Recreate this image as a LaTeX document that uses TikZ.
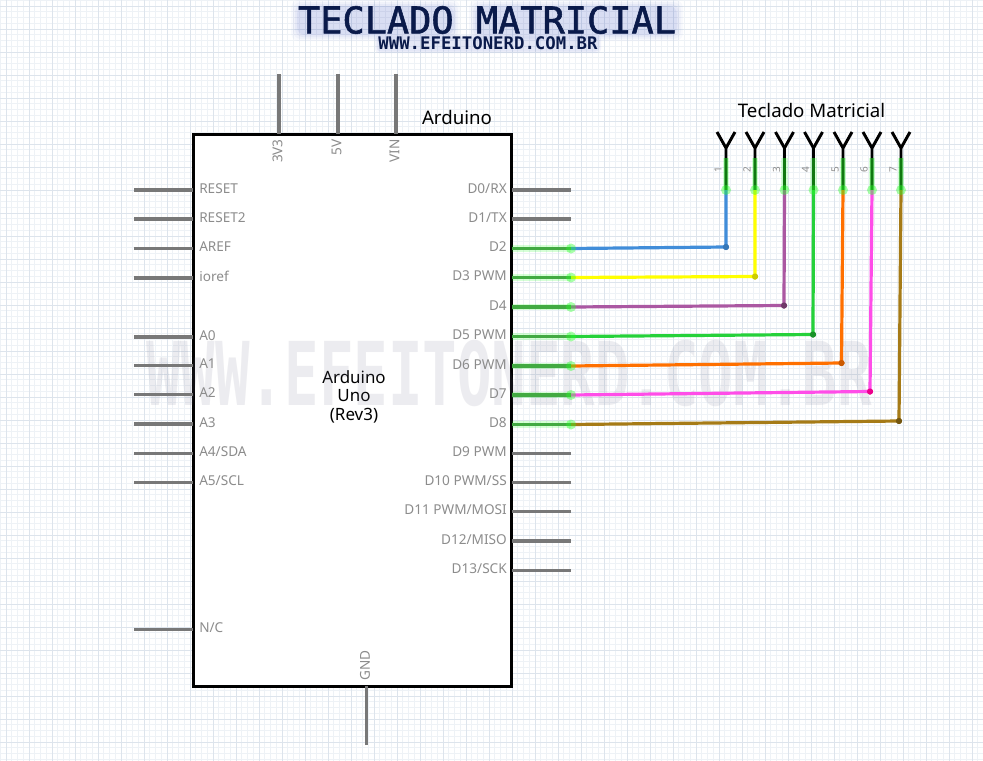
\documentclass[tikz,border=0pt]{standalone}
\usepackage{fontspec}
\setmainfont{Noto Sans}
\newfontfamily\titlefnt{DejaVu Sans Mono}[FakeBold=1.5]
\newfontfamily\markfnt{DejaVu Sans Mono Bold}

\definecolor{gridminor}{HTML}{EEF2F6}
\definecolor{gridmajor}{HTML}{DDE4EC}
\definecolor{pingray}{HTML}{787878}
\definecolor{labelgray}{HTML}{8C8C8C}
\definecolor{navytext}{HTML}{0A1A4A}
\definecolor{glowblue}{HTML}{3A4FC0}
\definecolor{wireblue}{HTML}{418DD9}
\definecolor{wireyellow}{HTML}{FFFF00}
\definecolor{wirepurple}{HTML}{AB58A2}
\definecolor{wiregreen}{HTML}{25D13A}
\definecolor{wireorange}{HTML}{FF7000}
\definecolor{wirepink}{HTML}{FF4DE8}
\definecolor{wirebrown}{HTML}{A67B17}
\definecolor{hitgreen}{HTML}{22C822}

\tikzset{
  pinline/.style={draw=pingray, line width=2.4pt},
  pinlabel/.style={font=\fontsize{10.2}{12}\selectfont, text=labelgray, inner sep=0pt},
  bigname/.style={font=\fontsize{14}{16}\selectfont, anchor=base},
  wire/.style={line width=2.4pt, line join=round},
  turndot/.style={circle, inner sep=0pt, minimum size=4.6pt, fill=#1},
  hit/.style={draw=hitgreen, opacity=0.5, line width=2.6pt},
  halo/.style={draw=green, opacity=0.16, line width=4.8pt},
  glowdot/.style={circle, inner sep=0pt, minimum size=7.5pt, fill=green!85!white, opacity=0.4},
}

\begin{document}
\begin{tikzpicture}[x=0.75pt, y=-0.75pt]
  \useasboundingbox (0,0) rectangle (983,761);
  \fill[white] (0,0) rectangle (983,761);

  % graph paper
  \foreach \i in {0,...,170} \draw[gridminor, line width=0.5pt] ({0.25+5.75*\i},0) -- ++(0,761);
  \foreach \i in {0,...,132} \draw[gridminor, line width=0.5pt] (0,{0.25+5.75*\i}) -- ++(983,0);
  \foreach \i in {0,...,42} \draw[gridmajor, line width=0.55pt] ({6+23*\i},0) -- ++(0,761);
  \foreach \i in {0,...,33} \draw[gridmajor, line width=0.55pt] (0,{6+23*\i}) -- ++(983,0);

  % board
  \node[draw=black, fill=white, line width=2.5pt, minimum width=238.5pt, minimum height=414pt, inner sep=0pt, anchor=north west] (board) at (191.5,132.5) {};
  \node[bigname] (boardname) at (457,124.5) {Arduino};
  \node[align=center, font=\fontsize{12.7}{13.9}\selectfont, inner sep=0pt] (boardtype) at (354,396.5) {Arduino\\Uno\\(Rev3)};

  % watermark
  \node[text=gray!90!blue, opacity=0.13, inner sep=0pt, xscale=0.652] (mark) at (509,373)
    {\markfnt\fontsize{66}{66}\selectfont WWW.EFEITONERD.COM.BR};

  % title haze
  \foreach \r/\o in {7/0.03, 5/0.04, 3/0.05, 1/0.07} {
    \fill[glowblue, opacity=\o, rounded corners=6pt] (298-\r,7-\r) rectangle (453+\r,34+\r);
    \fill[glowblue, opacity=\o, rounded corners=6pt] (476-\r,7-\r) rectangle (676+\r,34+\r);
  }
  \foreach \r/\o in {3/0.06, 1.5/0.08}
    \fill[glowblue, opacity=\o, rounded corners=3pt] (378-\r,38-\r) rectangle (598+\r,50+\r);
  \node[text=navytext, inner sep=0pt] (title) at (487,20)
    {\titlefnt\fontsize{27.7}{28}\selectfont TECLADO MATRICIAL};
  \node[text=navytext, inner sep=0pt] (site) at (488,43.5)
    {\markfnt\fontsize{13}{14}\selectfont WWW.EFEITONERD.COM.BR};

  % left pins
  \foreach \name/\ypos/\txt in {reset/190/RESET, resetb/219/RESET2, aref/248.5/AREF, ioref/278/ioref,
      a0/337/A0, a1/365.5/A1, a2/394.5/A2, a3/424/A3, a4/453.5/{A4/SDA}, a5/482.5/{A5/SCL}, nc/629.5/{N/C}} {
    \coordinate (\name out) at (134,\ypos);
    \node[pinlabel, anchor=west] (\name) at (199,\ypos-1.5) {\txt};
    \draw[pinline] (\name out) -- (193,\ypos);
  }

  % right pins
  \foreach \name/\ypos/\txt in {d0/190/{D0/RX}, d1/219/{D1/TX}, d2/248.5/D2, d3/277.5/D3 PWM, d4/307/D4,
      d5/336.5/D5 PWM, d6/366/D6 PWM, d7/395/D7, d8/424.5/D8, d9/453.5/D9 PWM, d10/482.5/{D10 PWM/SS},
      d11/511.5/{D11 PWM/MOSI}, d12/541/{D12/MISO}, d13/570.5/{D13/SCK}} {
    \coordinate (\name out) at (571,\ypos);
    \coordinate (\name in) at (512,\ypos);
    \node[pinlabel, anchor=east] (\name) at (507,\ypos-1.5) {\txt};
    \draw[pinline] (\name in) -- (\name out);
  }

  % top and bottom pins
  \foreach \name/\xpos/\txt in {vthree/279/3V3, vfive/338/5V, vin/396/VIN} {
    \coordinate (\name out) at (\xpos,74);
    \node[pinlabel, rotate=90, anchor=east] (\name) at (\xpos-1.5,139) {\txt};
    \draw[pinline] (\name out) -- (\xpos,134);
  }
  \coordinate (gndout) at (366.5,745);
  \node[pinlabel, rotate=90, anchor=west] (gnd) at (365,681) {GND};
  \draw[pinline] (gndout) -- (366.5,686);

  % keypad
  \node[bigname] (keypad) at (811.5,117) {Teclado Matricial};
  \foreach \n/\xpos in {1/726, 2/755, 3/784.5, 4/813.5, 5/843, 6/872, 7/901} {
    \coordinate (k\n) at (\xpos,190);
    \coordinate (fork\n) at (\xpos,148);
    \draw[black, line width=2.2pt] (k\n) -- (fork\n) -- ++(-9,-16);
    \draw[black, line width=2.2pt] (fork\n) -- ++(9,-16);
    \node[font=\fontsize{7.5}{8}\selectfont, text=labelgray, rotate=90, inner sep=0pt] (num\n) at (\xpos-8,170) {\n};
  }

  % wires
  \foreach \pinname/\n/\xbend/\ybend/\col/\dotcol in {
      d2/1/726/247/wireblue/wireblue!85!black,
      d3/2/755/276.5/wireyellow/wireyellow!80!black,
      d4/3/784/305.5/wirepurple/wirepurple!65!black,
      d5/4/813/334.5/wiregreen/wiregreen!70!black,
      d6/5/841.5/363/wireorange/wireorange!80!black,
      d7/6/870/391.5/wirepink/magenta,
      d8/7/899/421/wirebrown/wirebrown!70!black} {
    \node[turndot=\dotcol] (turn\n) at (\xbend,\ybend) {};
    \draw[wire, draw=\col] (\pinname out) -- (turn\n.center) -- (k\n);
    \node[turndot=\dotcol] at (turn\n) {};
    % lit connection at the board
    \draw[halo] (\pinname in) -- (\pinname out);
    \draw[hit] (\pinname in) -- (\pinname out);
    \node[glowdot] at (\pinname out) {};
  }
  \foreach \n in {1,...,7} {
    \draw[halo] (k\n) -- ++(0,-32);
    \draw[hit] (k\n) -- ++(0,-32);
    \node[glowdot] at (k\n) {};
  }
\end{tikzpicture}
\end{document}
